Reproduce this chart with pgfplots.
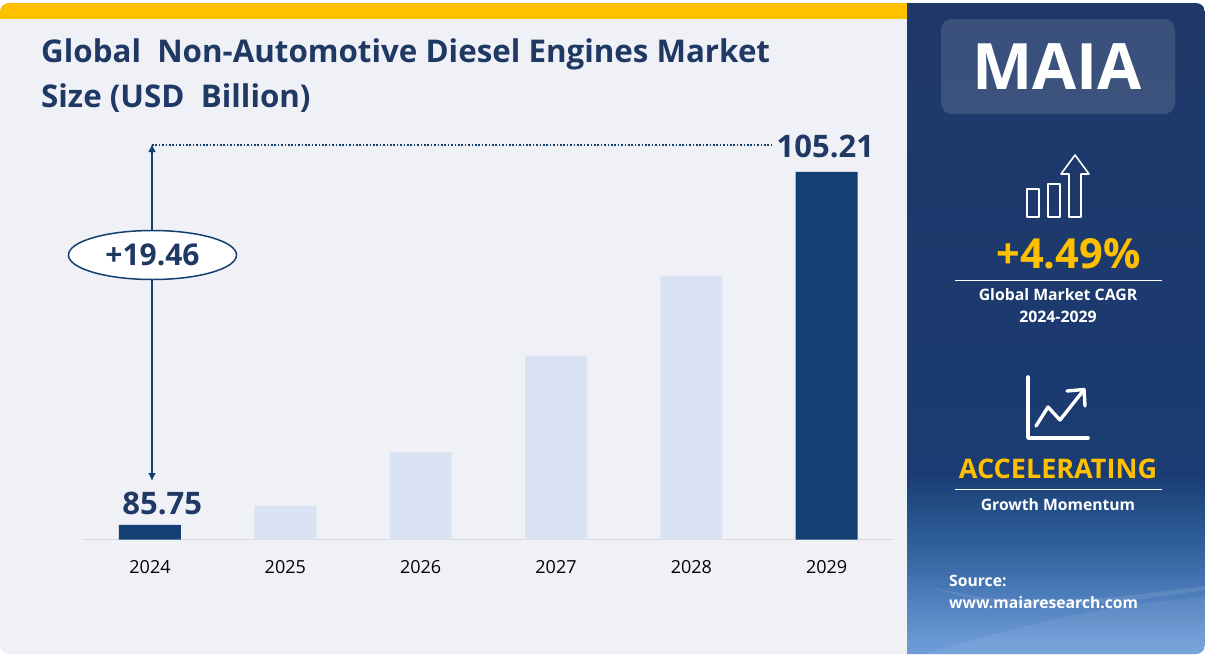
\documentclass[border=0pt]{standalone}
\usepackage{fontspec}
\setmainfont{Open Sans}
\usepackage{pgfplots}
\pgfplotsset{compat=1.18}
\usetikzlibrary{arrows.meta,shapes.geometric}

\definecolor{pagebg}{HTML}{EFF1F6}
\definecolor{navy}{HTML}{1F3864}
\definecolor{barDark}{HTML}{133F73}
\definecolor{barLight}{HTML}{DAE3F3}
\definecolor{gold}{HTML}{FFC000}
\definecolor{baseline}{HTML}{D9D9DE}
\definecolor{arrowblue}{HTML}{14406F}
\definecolor{pa}{HTML}{6E9CDA}
\definecolor{pb}{HTML}{6A98D5}
\definecolor{pc}{HTML}{3F70AD}
\definecolor{pd}{HTML}{2E5E98}
\definecolor{pe}{HTML}{1A3C72}
\definecolor{pf}{HTML}{1C3A6E}
\definecolor{pg}{HTML}{1F3869}

\pgfdeclareverticalshading{panelshade}{100bp}{%
  color(0bp)=(pa); color(25bp)=(pa); color(26bp)=(pb); color(31.2bp)=(pc);
  color(33.8bp)=(pd); color(38.9bp)=(pe); color(52bp)=(pf); color(75bp)=(pg);
  color(100bp)=(pg)}

\newcommand{\fs}[1]{\fontsize{#1}{#1}\selectfont}

\begin{document}
\begin{tikzpicture}
% page and panels, in reference pixels
\begin{scope}[x=1pt,y=-1pt]
\fill[white] (0,0) rectangle (1205,657);
\begin{scope}
\clip[rounded corners=9pt] (0,3) rectangle (930,654);
\fill[pagebg] (0,3) rectangle (930,654);
\fill[gold] (0,3) rectangle (930,19);
\end{scope}
\begin{scope}
\clip[rounded corners=9pt] (890,3) rectangle (1205,654);
\shade[shading=panelshade] (907,3) rectangle (1205,654);
% swooshes at the bottom of the panel
\fill[white,opacity=.10] (925,585) .. controls (1010,610) and (1100,600) .. (1205,586)
  -- (1205,590) .. controls (1100,606) and (1010,616) .. cycle;
\fill[white,opacity=.07] (925,654) .. controls (1020,625) and (1100,605) .. (1205,597)
  -- (1205,654) -- cycle;
\end{scope}
\fill[white,opacity=.13,rounded corners=11pt] (941,19) rectangle (1175,114);
\end{scope}

\begin{axis}[
  at={(83pt,-539.5pt)}, anchor=south west,
  scale only axis, width=810pt, height=409.5pt,
  xmin=-0.495, xmax=5.49, ymin=84.95, ymax=107.52,
  axis y line=none, axis x line=bottom,
  x axis line style={-,draw=baseline,line width=1pt},
  xtick={0,1,2,3,4,5},
  xticklabels={2024,2025,2026,2027,2028,2029},
  major tick length=0pt,
  xticklabel style={anchor=base,yshift=-34pt,font=\fs{18},text=black},
  /pgf/number format/assume math mode=true,
  ybar, bar shift=0pt, bar width=62pt,
  clip mode=individual,
]
\addplot[fill=barDark,draw=none] coordinates {(0,85.75) (5,105.21)};
\addplot[fill=barLight,draw=none] coordinates {(1,86.80) (2,89.77) (3,95.07) (4,99.48)};
\node[anchor=base,text=navy,font=\fs{31}\bfseries] at (axis cs:0.09,86.356) {85.75};
\node[anchor=base,text=navy,font=\fs{31}\bfseries] at (axis cs:4.99,106.03) {105.21};
\end{axis}

\begin{scope}[x=1pt,y=-1pt]
% title
\node[anchor=base west,inner sep=0pt,text=navy,font=\fs{31.3}\bfseries] at (41,62) {Global\ \ Non-Automotive Diesel Engines Market};
\node[anchor=base west,inner sep=0pt,text=navy,font=\fs{31.3}\bfseries] at (41,107) {Size (USD\ \ Billion)};
% difference annotation
\draw[arrowblue,line width=1.7pt,{Latex[length=8pt,width=8pt]}-{Latex[length=8pt,width=8pt]}] (152,144) -- (152,481);
\draw[arrowblue,line width=1.6pt,dash pattern=on 1.6pt off 1.8pt] (152,145) -- (774,145);
\node[ellipse,draw=arrowblue,line width=1.5pt,fill=white,minimum width=168pt,minimum height=49pt,inner sep=0pt,text=navy,font=\fs{30}\bfseries] at (152.5,255) {+19.46};
% side panel
\node[anchor=base,inner sep=0pt,text=white,font=\fs{64}\bfseries] at (1057,89) {MAIA};
\begin{scope}[white,line width=1.6pt,line join=round]
\draw (1027,189) rectangle (1039,217);
\draw (1048,184) rectangle (1060,217);
\draw (1069,217) -- (1069,174) -- (1061,174) -- (1075,155) -- (1089,174) -- (1081,174) -- (1081,217) -- cycle;
\end{scope}
\node[anchor=base,inner sep=0pt,text=gold,font=\fs{41.5}\bfseries] at (1068.5,268) {+4.49\%};
\draw[white,line width=1pt] (955,280.5) -- (1162,280.5);
\node[anchor=base,inner sep=0pt,text=white,font=\fs{15.8}\bfseries] at (1058,300) {Global Market CAGR};
\node[anchor=base,inner sep=0pt,text=white,font=\fs{15.8}\bfseries] at (1058,322.5) {2024-2029};
\begin{scope}[white,line width=3.6pt,line cap=round,line join=round]
\draw (1028,377) -- (1028,438) -- (1088,438);
\end{scope}
\begin{scope}[white,line width=3.4pt,line cap=round,line join=round]
\draw (1036,426) -- (1048,407) -- (1060,420) -- (1083,391);
\draw (1067,391) -- (1084,389.5) -- (1085,406);
\end{scope}
\node[anchor=base,inner sep=0pt,text=gold,font=\fs{27}\bfseries] at (1058,478) {ACCELERATING};
\draw[white,line width=1pt] (955,489) -- (1162,489);
\node[anchor=base,inner sep=0pt,text=white,font=\fs{15.7}\bfseries] at (1058,510) {Growth Momentum};
\node[anchor=base west,inner sep=0pt,text=white,font=\fs{15.7}\bfseries] at (949,586) {Source:};
\node[anchor=base west,inner sep=0pt,text=white,font=\fs{15.7}\bfseries] at (949,608) {www.maiaresearch.com};
\end{scope}
\end{tikzpicture}
\end{document}
